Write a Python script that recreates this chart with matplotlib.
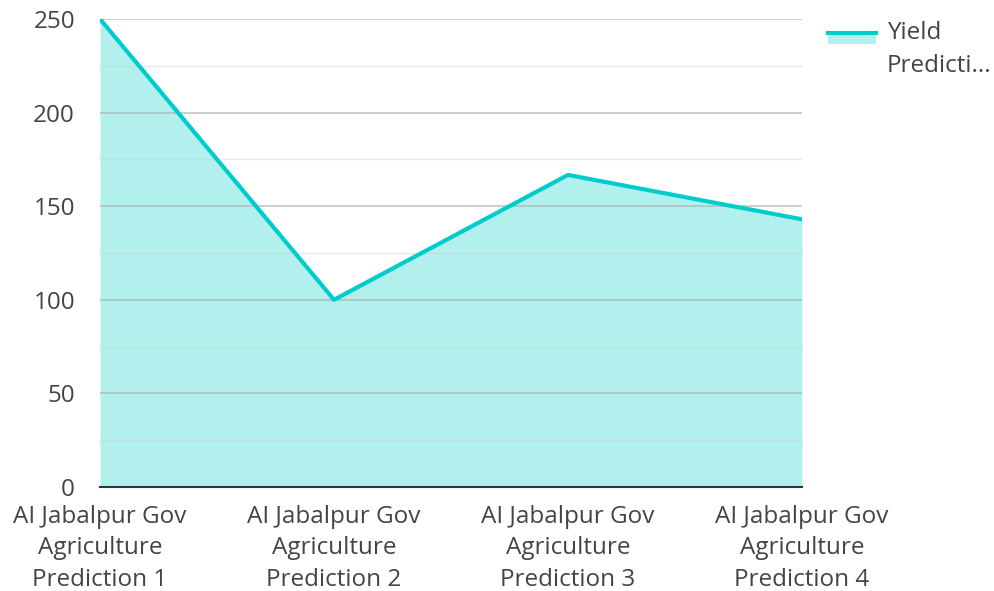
import matplotlib
matplotlib.use("Agg")
import matplotlib.pyplot as plt
from matplotlib.patches import Rectangle
from matplotlib.lines import Line2D
from matplotlib.ticker import MultipleLocator

categories = ["AI Jabalpur Gov\nAgriculture\nPrediction 1",
              "AI Jabalpur Gov\nAgriculture\nPrediction 2",
              "AI Jabalpur Gov\nAgriculture\nPrediction 3",
              "AI Jabalpur Gov\nAgriculture\nPrediction 4"]
values = [250, 100, 166.7, 143]
series_name = "Yield\nPredicti..."

line_color = "#00cccc"
fill_color = "#b2f0ee"
text_color = "#444444"
FS = 17.5

plt.rcParams['font.family'] = ['Open Sans', 'DejaVu Sans']

W, H = 994, 591
fig = plt.figure(figsize=(W/100, H/100), dpi=100)
ax = fig.add_axes([100/W, (H-487)/H, 702/W, 468/H])

x = list(range(len(categories)))
ax.fill_between(x, 0, values, color=fill_color, zorder=1, linewidth=0)
ax.plot(x, values, color=line_color, linewidth=3, zorder=3, solid_capstyle='round')

ax.set_xlim(0, len(categories) - 1)
ax.set_ylim(0, 250)
ax.yaxis.set_major_locator(MultipleLocator(50))
ax.yaxis.set_minor_locator(MultipleLocator(25))
ax.grid(which='major', axis='y', color='#a8a8a8', alpha=0.65, linewidth=1.2, zorder=2)
ax.grid(which='minor', axis='y', color='#cccccc', alpha=0.45, linewidth=1.0, zorder=2)
ax.set_axisbelow(False)

ax.set_xticks(x)
ax.set_xticklabels(categories, fontsize=FS, color=text_color, linespacing=1.41)
ax.tick_params(axis='both', which='both', length=0, labelsize=FS, colors=text_color)
ax.tick_params(axis='x', pad=13)
ax.tick_params(axis='y', pad=18)

for s in ['top', 'right', 'left']:
    ax.spines[s].set_visible(False)
ax.spines['bottom'].set_color('#333333')
ax.spines['bottom'].set_linewidth(1.5)
ax.spines['bottom'].set_zorder(4)

# legend (built from figure-level artists)
fig.add_artist(Rectangle((828/W, 1 - 44/H), 48/W, 13/H, transform=fig.transFigure,
                         facecolor=fill_color, edgecolor='none'))
fig.add_artist(Line2D([828/W, 876/W], [1 - 32.5/H, 1 - 32.5/H], transform=fig.transFigure,
                      color=line_color, linewidth=3))
fig.text(887/W, 1 - 21/H, series_name, fontsize=FS, color=text_color,
         va='top', ha='left', linespacing=1.5)

fig.savefig("out.png", dpi=100)
